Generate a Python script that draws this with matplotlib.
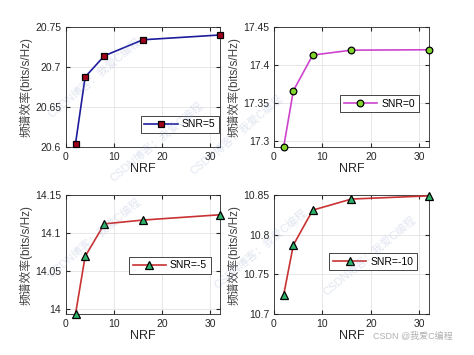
import matplotlib.pyplot as plt

plt.rcParams['font.family'] = ['Liberation Sans', 'Noto Sans CJK SC', 'DejaVu Sans']

nrf = [2, 4, 8, 16, 32]
se_snr5 = [20.604, 20.6875, 20.714, 20.734, 20.740]
se_snr0 = [17.292, 17.366, 17.413, 17.4195, 17.420]
se_snrm5 = [13.993, 14.069, 14.112, 14.117, 14.124]
se_snrm10 = [10.724, 10.787, 10.831, 10.845, 10.849]
labels = ['SNR=5', 'SNR=0', 'SNR=-5', 'SNR=-10']

fig = plt.figure(figsize=(4.74, 3.55), dpi=100)

panels = [
    # data, axes rect, ylim, yticks, ytick labels, line color, marker, size, face, legend anchor
    (se_snr5, [0.139, 0.586, 0.325, 0.338], (20.6, 20.75),
     [20.6, 20.65, 20.7, 20.75], ['20.6', '20.65', '20.7', '20.75'],
     '#1c1c9c', 's', 4.2, '#a0001c', (0.74, 0.19)),
    (se_snr0, [0.578, 0.586, 0.327, 0.338], (17.292, 17.45),
     [17.3, 17.35, 17.4, 17.45], ['17.3', '17.35', '17.4', '17.45'],
     '#cc44cc', 'o', 4.8, '#7fd32a', (0.68, 0.36)),
    (se_snrm5, [0.139, 0.1155, 0.325, 0.335], (13.993, 14.15),
     [14.0, 14.05, 14.1, 14.15], ['14', '14.05', '14.1', '14.15'],
     '#c83232', '^', 5.2, '#2fb36a', (0.675, 0.41)),
    (se_snrm10, [0.578, 0.1155, 0.327, 0.335], (10.7, 10.85),
     [10.7, 10.75, 10.8, 10.85], ['10.7', '10.75', '10.8', '10.85'],
     '#c83232', '^', 5.2, '#2fb36a', (0.64, 0.44)),
]

for (y, rect, ylim, yt, ytl, lc, mk, ms, fc, anchor), lab in zip(panels, labels):
    ax = fig.add_axes(rect)
    ax.plot(nrf, y, color=lc, lw=1.2, marker=mk, markersize=ms,
            markerfacecolor=fc, markeredgecolor='black', markeredgewidth=0.9,
            label=lab, clip_on=False, zorder=3)
    ax.set_xlim(0, 32)
    ax.set_ylim(*ylim)
    ax.set_xticks([0, 10, 20, 30])
    ax.set_yticks(yt)
    ax.set_yticklabels(ytl)
    ax.grid(True, color='#e3e3e3', lw=0.6)
    ax.tick_params(direction='in', labelsize=7.5, colors='#262626', length=3,
                   top=True, right=True)
    for s in ax.spines.values():
        s.set_color('#262626')
        s.set_linewidth(0.6)
    ax.set_xlabel('NRF', fontsize=9, color='#262626', labelpad=1)
    ax.set_ylabel('频谱效率(bits/s/Hz)', fontsize=8.5, color='#404040', labelpad=2)
    leg = ax.legend(loc='center', bbox_to_anchor=anchor, fontsize=7.5,
                    fancybox=False, framealpha=1, handlelength=3.2,
                    borderpad=0.35, handletextpad=0.4)
    leg.get_frame().set_edgecolor('#262626')
    leg.get_frame().set_linewidth(0.6)

# faint watermarks
wm = 'CSDN博客：我爱C编程'
for (x, yy) in [(0.2, 0.78), (0.33, 0.6), (0.5, 0.62), (0.2, 0.33), (0.55, 0.3), (0.78, 0.28)]:
    fig.text(x, yy, wm, fontsize=8, color='#8a9ac8', alpha=0.25, rotation=40,
             ha='center', va='center')
fig.text(0.955, 0.045, 'CSDN @我爱C编程', fontsize=6.5, color='#b0b0b0', ha='right')

fig.savefig('out.png', dpi=100)
